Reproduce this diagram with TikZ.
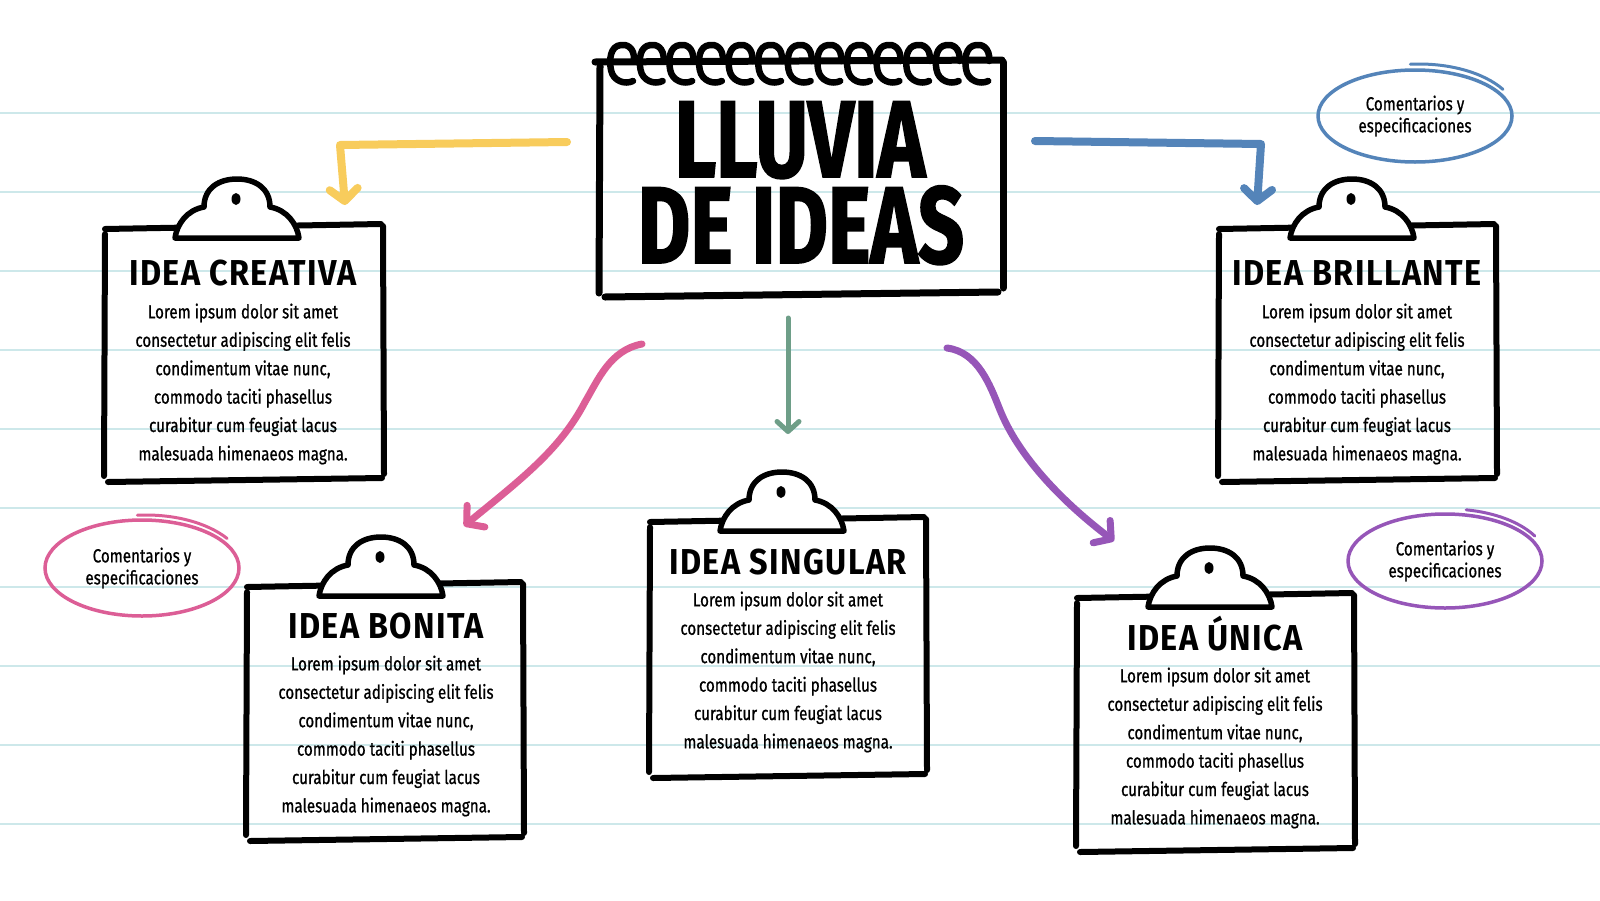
\documentclass[tikz,border=0pt]{standalone}
\usepackage{fontspec}
\usetikzlibrary{arrows.meta}
\setmainfont{Fira Sans}
\newfontfamily\bodyfont{Fira Sans}[FakeStretch=0.8,FakeBold=0.8]
\newfontfamily\headfont{Fira Sans}[FakeStretch=0.9,LetterSpace=4]
\newfontfamily\titlefont{Fira Sans}[FakeStretch=0.74,FakeBold=1.5]
\definecolor{ruleline}{RGB}{205,232,234}
\definecolor{cyellow}{RGB}{248,204,92}
\definecolor{cblue}{RGB}{84,132,185}
\definecolor{cpink}{RGB}{220,94,150}
\definecolor{cgreen}{RGB}{110,158,136}
\definecolor{cpurple}{RGB}{150,86,184}
\tikzset{
  pen/.style={line width=6pt, line cap=round, line join=round, black},
  heading/.style={font=\headfont\bfseries\fontsize{36}{40}\selectfont, anchor=base, inner sep=0pt},
  body/.style={font=\bodyfont\fontsize{19}{28.4}\selectfont, align=center, inner sep=0pt},
  comment/.style={font=\bodyfont\fontsize{19}{22}\selectfont, align=center, inner sep=0pt},
  ring/.style={line width=3.5pt, line cap=round},
  ringtail/.style={line width=3pt, line cap=round},
  bigarrow/.style={line width=8pt, line cap=round, line join=round, -{Straight Barb[round,length=12pt,width=28pt]}},
  curvearrow/.style={line width=7pt, line cap=round, line join=round, -{Straight Barb[round,length=12pt,width=28pt]}},
  thinarrow/.style={line width=5pt, line cap=round, -{Straight Barb[round,length=10pt,width=22pt]}},
  titletext/.style={font=\titlefont\bfseries\fontsize{109}{100}\selectfont, anchor=base, inner sep=0pt, text height=76pt, text depth=0pt},
}
\newcommand\ideabox[6]{%
  \node[minimum width={#4-#2}, minimum height={#5-#3}, inner sep=0pt, anchor=north west] (#1) at (#2,#3) {};
  \draw[pen] (#2,#3+3) -- (#4-1,#3-2);
  \draw[pen] (#2,#3+8) -- (#2-1,#5-4);
  \draw[pen] (#4+1,#3) -- (#4+2,#5-6);
  \draw[pen] (#2+3,#5+2) -- (#4,#5-2);
  \draw[pen, line width=5.5pt, fill=white] (#6-62,#3+12) .. controls (#6-60,#3-2) and (#6-50,#3-16) .. (#6-33,#3-19)
     .. controls (#6-33,#3-38) and (#6-18,#3-47) .. (#6,#3-47)
     .. controls (#6+18,#3-47) and (#6+33,#3-38) .. (#6+33,#3-19)
     .. controls (#6+50,#3-16) and (#6+60,#3-2) .. (#6+62,#3+12) -- cycle;
  \fill (#6-1,#3-27) ellipse [x radius=4.5, y radius=6];
}
\newcommand\loremtext{Lorem ipsum dolor sit amet\\consectetur adipiscing elit felis\\condimentum vitae nunc,\\commodo taciti phasellus\\curabitur cum feugiat lacus\\malesuada himenaeos magna.}
\begin{document}
\begin{tikzpicture}[x=1pt,y=-1pt]
\useasboundingbox (0,0) rectangle (1600,900);
\fill[white] (0,0) rectangle (1600,900);
\foreach \y in {113,192,...,824} \draw[ruleline, line width=1.5pt] (0,\y) -- (1600,\y);

% title box
\node[minimum width=406, minimum height=234, inner sep=0pt] (title) at (800,178) {};
\draw[pen, line width=7pt] (595,62) -- (1002,60);
\draw[pen, line width=7pt] (600,66) -- (599,293);
\draw[pen, line width=7pt] (1003,62) -- (1003,288);
\draw[pen, line width=7pt] (605,297) -- (998,292);
\foreach \i in {0,...,12} {
  \pgfmathsetmacro\x{623+29.6*\i}
  \draw[pen, line width=6.5pt] (\x+11,61) .. controls (\x+12,47) and (\x+3,44) .. (\x-2,45)
     .. controls (\x-13,46) and (\x-14,60) .. (\x-12,70)
     .. controls (\x-10,81) and (\x+2,85) .. (\x+10,81);
}
\node[titletext] (t1) at (800,177) {LLUVIA};
\node[titletext] (t2) at (801,263) {DE IDEAS};

% idea boxes
\ideabox{creativa}{105}{226}{382}{480}{237}
\ideabox{brillante}{1219}{226}{1495}{480}{1352}
\ideabox{bonita}{247}{584}{522}{839}{381}
\ideabox{singular}{650}{519}{925}{776}{782}
\ideabox{unica}{1077}{595}{1353}{850}{1210}

\node[heading] (h1) at (243,285) {IDEA CREATIVA};
\node[heading] (h2) at (1357,285) {IDEA BRILLANTE};
\node[heading] (h3) at (386,638) {IDEA BONITA};
\node[heading] (h4) at (788,574) {IDEA SINGULAR};
\node[heading] (h5) at (1215,650) {IDEA ÚNICA};

\node[body] (b1) at (243,384) {\loremtext};
\node[body] (b2) at (1357,384) {\loremtext};
\node[body] (b3) at (386,736) {\loremtext};
\node[body] (b4) at (788,672) {\loremtext};
\node[body] (b5) at (1215,748) {\loremtext};

% comments
\node[comment] (c1) at (1415,116) {Comentarios y\\especificaciones};
\draw[cblue, ring] (c1.center) ellipse [x radius=97, y radius=46];
\draw[cblue, ringtail] ([shift={(4,2)}]c1.center) ++(-95:99 and 54) arc[start angle=-95, end angle=-32, x radius=99, y radius=54];
\node[comment] (c2) at (142,568) {Comentarios y\\especificaciones};
\draw[cpink, ring] (c2.center) ellipse [x radius=97, y radius=48];
\draw[cpink, ringtail] ([shift={(4,2)}]c2.center) ++(-95:99 and 55) arc[start angle=-95, end angle=-35, x radius=99, y radius=55];
\node[comment] (c3) at (1445,561) {Comentarios y\\especificaciones};
\draw[cpurple, ring] (c3.center) ellipse [x radius=97, y radius=47];
\draw[cpurple, ringtail] ([shift={(4,2)}]c3.center) ++(-80:99 and 54) arc[start angle=-80, end angle=-30, x radius=99, y radius=54];

% arrows
\coordinate (ys) at (567,142);
\coordinate (yc) at (340,145);
\coordinate (ye) at (345,205);
\draw[cyellow, bigarrow] (ys) -- (yc) -- (ye);
\coordinate (bs) at (1035,141);
\coordinate (bc) at (1261,144);
\coordinate (be) at (1257,205);
\draw[cblue, bigarrow] (bs) -- (bc) -- (be);
\coordinate (gs) at (788,318);
\coordinate (ge) at (788,434);
\draw[cgreen, thinarrow] (gs) -- (ge);
\coordinate (ps) at (642,344);
\coordinate (pm) at (585,402);
\coordinate (pe) at (464,526);
\draw[cpink, curvearrow] (ps) .. controls (610,350) and (598,380) .. (pm) .. controls (560,450) and (520,480) .. (pe);
\coordinate (us) at (947,348);
\coordinate (um) at (1000,410);
\coordinate (ue) at (1114,541);
\draw[cpurple, curvearrow] (us) .. controls (978,352) and (990,385) .. (um) .. controls (1018,455) and (1060,500) .. (ue);
\end{tikzpicture}
\end{document}
